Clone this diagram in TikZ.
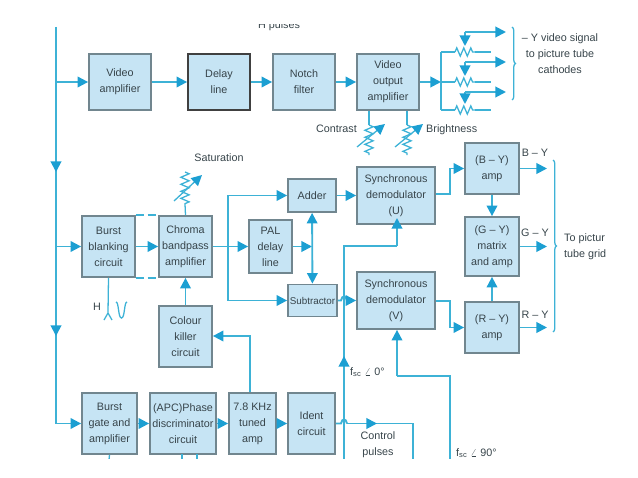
\documentclass[tikz,border=0pt]{standalone}
\usepackage{fontspec}
\setmainfont{Liberation Sans}
\usetikzlibrary{arrows.meta,decorations.pathmorphing,decorations.pathreplacing}
\definecolor{boxfill}{HTML}{C6E4F4}
\definecolor{boxline}{HTML}{71868F}
\definecolor{wirecol}{HTML}{3DB2D6}
\definecolor{tipcol}{HTML}{1C9FD2}
\definecolor{txtcol}{HTML}{37444A}
\tikzset{
  box/.style={draw=boxline,line width=1.5pt,fill=boxfill,align=center,inner sep=0pt,text=txtcol,
    font=\fontsize{9.2}{13.6}\selectfont},
  lbl/.style={align=center,inner sep=0pt,text=txtcol,font=\fontsize{9.2}{13.6}\selectfont},
  wire/.style={draw=wirecol,line width=1.6pt},
  flow/.style={wire,-{Triangle[length=9pt,width=9pt,fill=tipcol,color=tipcol]}},
  both/.style={wire,{Triangle[length=9pt,width=9pt,fill=tipcol,color=tipcol]}-{Triangle[length=9pt,width=9pt,fill=tipcol,color=tipcol]}},
  zig/.style={wire,line width=1.1pt,decorate,decoration={zigzag,amplitude=3.5pt,segment length=6pt}},
  thin wire/.style={wire,line width=1.1pt},
}
\begin{document}
\begin{tikzpicture}[x=.03cm,y=-.03cm]
\useasboundingbox (0,0) rectangle (638,478);
\clip (0,25) rectangle (638,458);
% top row
\node[box,minimum width=1.86cm,minimum height=1.68cm] (vamp) at (120,82) {Video\\amplifier};
\node[box,draw=black!75,minimum width=1.86cm,minimum height=1.68cm] (delay) at (219,82) {Delay\\line};
\node[box,minimum width=1.86cm,minimum height=1.68cm] (notch) at (304,82) {Notch\\filter};
\node[box,minimum width=1.86cm,minimum height=1.68cm] (vout) at (388,82) {Video\\output\\amplifier};
% middle
\node[box,minimum width=1.59cm,minimum height=1.83cm] (blank) at (108.5,246.5) {Burst\\blanking\\circuit};
\node[box,minimum width=1.59cm,minimum height=1.83cm] (chroma) at (185.5,246.5) {Chroma\\bandpass\\amplifier};
\node[box,minimum width=1.29cm,minimum height=1.59cm] (pal) at (270.5,246.5) {PAL\\delay\\line};
\node[box,minimum width=1.44cm,minimum height=.99cm] (adder) at (312,195.5) {Adder};
\node[box,minimum width=1.47cm,minimum height=.96cm,font=\fontsize{8.4}{12}\selectfont] (subt) at (312.5,300.5) {Subtractor};
\node[box,minimum width=2.34cm,minimum height=1.71cm] (demu) at (396,195.5) {Synchronous\\demodulator\\(U)};
\node[box,minimum width=2.34cm,minimum height=1.71cm] (demv) at (396,300.5) {Synchronous\\demodulator\\(V)};
\node[box,minimum width=1.62cm,minimum height=1.53cm] (by) at (492,168.5) {(B -- Y)\\amp};
\node[box,minimum width=1.62cm,minimum height=1.77cm] (gy) at (492,246.5) {(G -- Y)\\matrix\\and amp};
\node[box,minimum width=1.62cm,minimum height=1.53cm] (ry) at (492,327.5) {(R -- Y)\\amp};
\node[box,minimum width=1.59cm,minimum height=1.83cm] (killer) at (185.5,336.5) {Colour\\killer\\circuit};
% bottom row
\node[box,minimum width=1.65cm,minimum height=1.83cm] (gate) at (109.5,423.5) {Burst\\gate and\\amplifier};
\node[box,minimum width=1.98cm,minimum height=1.83cm] (apc) at (183,423.5) {(APC)Phase\\discriminator\\circuit};
\node[box,minimum width=1.41cm,minimum height=1.83cm] (tuned) at (252.5,423.5) {7.8 KHz\\tuned\\amp};
\node[box,minimum width=1.41cm,minimum height=1.83cm] (ident) at (311.5,423.5) {Ident\\circuit};
% labels
\node[lbl] (hpulse) at (279,26) {H pulses};
\node[lbl] (ysig) at (560,54) {-- Y video signal\\to picture tube\\cathodes};
\node[lbl,anchor=east] (contrast) at (357,129) {Contrast};
\node[lbl,anchor=west] (bright) at (426,130) {Brightness};
\node[lbl] (satur) at (219,158) {Saturation};
\node[lbl] (lby) at (535,153) {B -- Y};
\node[lbl] (lgy) at (535,233) {G -- Y};
\node[lbl] (lry) at (535,315) {R -- Y};
\node[lbl,align=left,anchor=west] (tube) at (564,247) {To pictur\\tube grid};
\node[lbl] (hlab) at (97,307) {H};
\node[lbl,anchor=west] (fsc) at (350,372) {f$_{\mathrm{sc}}$ $\angle$ 0°};
\node[lbl,anchor=west] (fsd) at (456,453) {f$_{\mathrm{sc}}$ $\angle$ 90°};
\node[lbl] (ctrl) at (378,445) {Control\\pulses};
% trunk on the left
\coordinate (ttop) at (56,27);
\coordinate (tvid) at (56,82);
\coordinate (tmid) at (56,246.5);
\coordinate (tbot) at (56,423.5);
\draw[wire] (ttop) -- (tbot);
\draw[flow] (tvid) -- (56,172);
\draw[flow] (tmid) -- (56,336);
\draw[flow] (tvid) -- (vamp.west);
\draw[flow] (tmid) -- (blank.west);
\draw[flow] (tbot) -- (gate.west);
% top row links
\draw[flow] (vamp) -- (delay);
\draw[flow] (delay) -- (notch);
\draw[flow] (notch) -- (vout);
% output resistors
\coordinate (bus) at (441,82);
\draw[flow] (vout.east) -- (bus);
\draw[wire] (441,52) -- (455,52) (bus) -- (455,82) (441,110) -- (455,110) (441,52) -- (441,110);
\draw[zig] (455,52) -- (475,52);
\draw[zig] (455,82) -- (475,82);
\draw[zig] (455,110) -- (475,110);
\draw[thin wire] (475,52) -- (491,52) (475,82) -- (491,82) (475,110) -- (491,110);
\draw[flow] (465,32) -- (465,46);
\draw[flow] (465,62) -- (465,76);
\draw[flow] (465,92) -- (465,104);
\draw[flow] (465,32) -- (506,32);
\draw[flow] (465,62) -- (506,62);
\draw[flow] (465,92) -- (506,92);
\draw[wire,line width=1.1pt,decorate,decoration={brace,amplitude=3pt}] (512,27) -- (512,100);
% contrast and brightness
\coordinate (cona) at (369,125);
\coordinate (conb) at (369,155);
\coordinate (bria) at (407,125);
\coordinate (brib) at (407,155);
\draw[thin wire] (vout.south -| cona) -- (cona);
\draw[zig] (cona) -- (conb);
\draw[flow,line width=1.1pt] (357,147) -- (385,124);
\draw[thin wire] (vout.south -| bria) -- (bria);
\draw[zig] (bria) -- (brib);
\draw[flow,line width=1.1pt] (395,147) -- (423,124);
% saturation
\coordinate (sata) at (185,172);
\coordinate (satb) at (185,204);
\draw[zig] (sata) -- (satb);
\draw[thin wire] (satb) -- (chroma.north);
\draw[flow,line width=1.1pt] (174,201) -- (202,175);
% chroma path
\draw[wire,dashed,dash pattern=on 7pt off 3pt] (blank.north east) -- (chroma.north west);
\draw[wire,dashed,dash pattern=on 7pt off 3pt] (blank.south east) -- (chroma.south west);
\draw[flow] (blank.east) -- (chroma.west);
\draw[flow] (killer) -- (chroma);
\coordinate (split) at (228,246.5);
\draw[wire] (chroma.east) -- (split);
\draw[flow] (split) -- (pal.west);
\draw[flow] (split) |- (adder.west);
\draw[flow] (split) |- (subt.west);
\coordinate (meet) at (312,246.5);
\draw[flow] (pal.east) -- (meet);
\draw[both] (adder) -- (subt);
\draw[flow] (adder.east) -- (demu.west);
% demodulators to matrix
\coordinate (ua) at (450,194);
\coordinate (va) at (450,301);
\draw[flow] (demu.east |- ua) -- (ua) |- (by.west);
\draw[flow] (demv.east |- va) -- (va) |- (ry.west);
\draw[flow] (by) -- (gy);
\draw[flow] (ry) -- (gy);
\coordinate (bout) at (547,168.5);
\coordinate (gout) at (547,246.5);
\coordinate (rout) at (547,327.5);
\draw[flow] (by) -- (bout);
\draw[flow] (gy) -- (gout);
\draw[flow] (ry) -- (rout);
\draw[wire,line width=1.1pt,decorate,decoration={brace,amplitude=3pt}] (553,160) -- (553,332);
% subtractor over the f line
\coordinate (hopa) at (341,300.5);
\coordinate (hopb) at (347,300.5);
\draw[wire] (subt.east) -- (hopa) .. controls (342,295) and (346,295) .. (hopb);
\draw[flow] (hopb) -- (demv.west);
% f lines
\coordinate (fbot) at (344,470);
\coordinate (fup) at (344,246);
\coordinate (fmid) at (344,356);
\coordinate (finu) at (397,218);
\draw[wire] (fbot) -- (fup) -- (397,246);
\draw[flow] (397,246) -- (finu);
\draw[flow] (344,380) -- (fmid);
\coordinate (gbot) at (450,470);
\coordinate (gup) at (450,376);
\coordinate (gmid) at (397,376);
\draw[wire] (gbot) -- (gup) -- (gmid);
\draw[flow] (gmid) -- (demv.south -| gmid);
% bottom row links
\draw[flow] (gate) -- (apc);
\draw[flow] (apc) -- (tuned);
\draw[flow] (tuned) -- (ident);
\coordinate (kink) at (250,336);
\draw[flow] (tuned.north -| kink) -- (kink) -- (killer.east |- kink);
\coordinate (ihopa) at (341,423.5);
\coordinate (ihopb) at (347,423.5);
\coordinate (ictl) at (413,423.5);
\draw[wire] (ident.east |- ihopa) -- (ihopa) .. controls (342,418) and (346,418) .. (ihopb);
\draw[wire] (ihopb) -- (ictl) -- (413,470);
\draw[flow] (ihopb) -- (377,423.5);
% stubs below the boxes and the H pulse
\draw[thin wire] (gate.south) -- (108,470);
\draw[thin wire] (182,454) -- (182,470) (197,454) -- (197,470);
\coordinate (hfork) at (108,313);
\draw[thin wire] (blank.south) -- (hfork) -- (104,320) (hfork) -- (112,320);
\draw[thin wire] (116,302) .. controls (119,302) and (118,318) .. (121.5,318) .. controls (125,318) and (124,302) .. (127,302);
\end{tikzpicture}
\end{document}
